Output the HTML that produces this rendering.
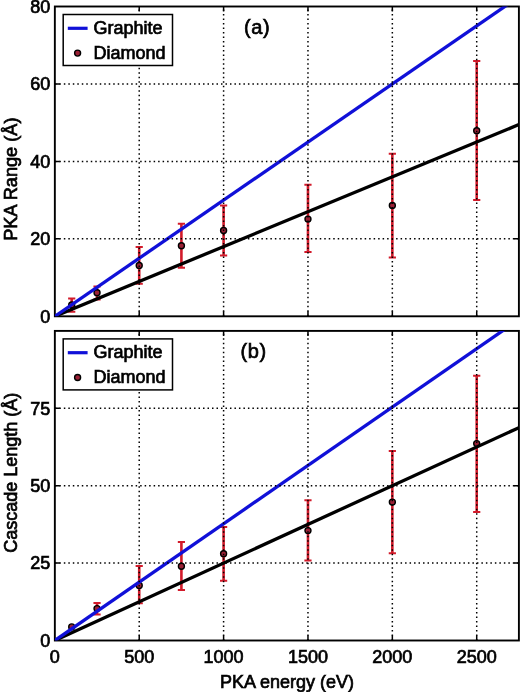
<!DOCTYPE html><html><head><meta charset="utf-8"><style>html,body{margin:0;padding:0;background:#fff;}svg{display:block;}text{font-family:"Liberation Sans", Arial, Helvetica, sans-serif;fill:#000;stroke:#000;stroke-width:0.7px;}</style></head><body>
<svg width="520" height="692" viewBox="0 0 520 692">
<rect width="520" height="692" fill="#fff"/>
<defs><clipPath id="c0"><rect x="54.85" y="6.5" width="464.05" height="309.8"/></clipPath></defs>
<rect x="54.85" y="6.5" width="464.05" height="309.8" fill="none" stroke="#000" stroke-width="1.9"/>
<g clip-path="url(#c0)">
<line x1="71.72" y1="298.49" x2="71.72" y2="311.77" stroke="#d21a2a" stroke-width="2.6"/>
<line x1="68.12" y1="298.49" x2="75.32" y2="298.49" stroke="#d21a2a" stroke-width="2"/>
<line x1="68.12" y1="311.77" x2="75.32" y2="311.77" stroke="#d21a2a" stroke-width="2"/>
<line x1="97.04" y1="286.48" x2="97.04" y2="299.42" stroke="#d21a2a" stroke-width="2.6"/>
<line x1="93.44" y1="286.48" x2="100.64" y2="286.48" stroke="#d21a2a" stroke-width="2"/>
<line x1="93.44" y1="299.42" x2="100.64" y2="299.42" stroke="#d21a2a" stroke-width="2"/>
<line x1="139.22" y1="246.98" x2="139.22" y2="283.77" stroke="#d21a2a" stroke-width="2.6"/>
<line x1="135.62" y1="246.98" x2="142.82" y2="246.98" stroke="#d21a2a" stroke-width="2"/>
<line x1="135.62" y1="283.77" x2="142.82" y2="283.77" stroke="#d21a2a" stroke-width="2"/>
<line x1="181.41" y1="223.75" x2="181.41" y2="267.7" stroke="#d21a2a" stroke-width="2.6"/>
<line x1="177.81" y1="223.75" x2="185.01" y2="223.75" stroke="#d21a2a" stroke-width="2"/>
<line x1="177.81" y1="267.7" x2="185.01" y2="267.7" stroke="#d21a2a" stroke-width="2"/>
<line x1="223.6" y1="205.55" x2="223.6" y2="255.5" stroke="#d21a2a" stroke-width="2.6"/>
<line x1="220" y1="205.55" x2="227.2" y2="205.55" stroke="#d21a2a" stroke-width="2"/>
<line x1="220" y1="255.5" x2="227.2" y2="255.5" stroke="#d21a2a" stroke-width="2"/>
<line x1="307.97" y1="184.83" x2="307.97" y2="252.02" stroke="#d21a2a" stroke-width="2.6"/>
<line x1="304.37" y1="184.83" x2="311.57" y2="184.83" stroke="#d21a2a" stroke-width="2"/>
<line x1="304.37" y1="252.02" x2="311.57" y2="252.02" stroke="#d21a2a" stroke-width="2"/>
<line x1="392.34" y1="153.66" x2="392.34" y2="257.44" stroke="#d21a2a" stroke-width="2.6"/>
<line x1="388.74" y1="153.66" x2="395.94" y2="153.66" stroke="#d21a2a" stroke-width="2"/>
<line x1="388.74" y1="257.44" x2="395.94" y2="257.44" stroke="#d21a2a" stroke-width="2"/>
<line x1="476.71" y1="61.1" x2="476.71" y2="200.12" stroke="#d21a2a" stroke-width="2.6"/>
<line x1="473.11" y1="61.1" x2="480.31" y2="61.1" stroke="#d21a2a" stroke-width="2"/>
<line x1="473.11" y1="200.12" x2="480.31" y2="200.12" stroke="#d21a2a" stroke-width="2"/>
<circle cx="71.72" cy="305.07" r="3" fill="#9a2035" stroke="#000" stroke-width="1.4"/>
<circle cx="97.04" cy="292.68" r="3" fill="#9a2035" stroke="#000" stroke-width="1.4"/>
<circle cx="139.22" cy="265.57" r="3" fill="#9a2035" stroke="#000" stroke-width="1.4"/>
<circle cx="181.41" cy="245.82" r="3" fill="#9a2035" stroke="#000" stroke-width="1.4"/>
<circle cx="223.6" cy="230.52" r="3" fill="#9a2035" stroke="#000" stroke-width="1.4"/>
<circle cx="307.97" cy="219.1" r="3" fill="#9a2035" stroke="#000" stroke-width="1.4"/>
<circle cx="392.34" cy="205.55" r="3" fill="#9a2035" stroke="#000" stroke-width="1.4"/>
<circle cx="476.71" cy="130.81" r="3" fill="#9a2035" stroke="#000" stroke-width="1.4"/>
<line x1="54.85" y1="316.3" x2="518.9" y2="124.61" stroke="#000" stroke-width="3.3"/>
<line x1="54.85" y1="316.3" x2="518.9" y2="-3.18" stroke="#1010d8" stroke-width="3.3"/>
<path d="M139.22 316.3V6.5M223.6 316.3V6.5M307.97 316.3V6.5M392.34 316.3V6.5M476.71 316.3V6.5M54.85 238.85H518.9M54.85 161.4H518.9M54.85 83.95H518.9" fill="none" stroke="#000" stroke-width="1.5" stroke-dasharray="1.5 2.99"/>
<path d="M139.22 316.3v-5M139.22 6.5v5M223.6 316.3v-5M223.6 6.5v5M307.97 316.3v-5M307.97 6.5v5M392.34 316.3v-5M392.34 6.5v5M476.71 316.3v-5M476.71 6.5v5M54.85 238.85h5M518.9 238.85h-5M54.85 161.4h5M518.9 161.4h-5M54.85 83.95h5M518.9 83.95h-5" fill="none" stroke="#000" stroke-width="1.5"/>
</g>
<text x="50.2" y="322.6" font-size="18" text-anchor="end">0</text>
<text x="50.2" y="245.15" font-size="18" text-anchor="end">20</text>
<text x="50.2" y="167.7" font-size="18" text-anchor="end">40</text>
<text x="50.2" y="90.25" font-size="18" text-anchor="end">60</text>
<text x="50.2" y="12.8" font-size="18" text-anchor="end">80</text>
<rect x="63.2" y="14.5" width="109.3" height="51" fill="#fff" stroke="#000" stroke-width="1.5"/>
<line x1="67.8" y1="28.3" x2="87.6" y2="28.3" stroke="#1010d8" stroke-width="3.2"/>
<circle cx="77.6" cy="53.1" r="3" fill="#9a2035" stroke="#000" stroke-width="1.4"/>
<text x="93.5" y="33.7" font-size="18">Graphite</text>
<text x="93.5" y="58.7" font-size="18">Diamond</text>
<text x="244" y="33.5" font-size="20" letter-spacing="0.6">(a)</text>
<defs><clipPath id="c1"><rect x="54.85" y="330.9" width="464.05" height="309.6"/></clipPath></defs>
<rect x="54.85" y="330.9" width="464.05" height="309.6" fill="none" stroke="#000" stroke-width="1.9"/>
<g clip-path="url(#c1)">
<line x1="97.04" y1="603.04" x2="97.04" y2="614.49" stroke="#d21a2a" stroke-width="2.6"/>
<line x1="93.44" y1="603.04" x2="100.64" y2="603.04" stroke="#d21a2a" stroke-width="2"/>
<line x1="93.44" y1="614.49" x2="100.64" y2="614.49" stroke="#d21a2a" stroke-width="2"/>
<line x1="139.22" y1="565.89" x2="139.22" y2="603.35" stroke="#d21a2a" stroke-width="2.6"/>
<line x1="135.62" y1="565.89" x2="142.82" y2="565.89" stroke="#d21a2a" stroke-width="2"/>
<line x1="135.62" y1="603.35" x2="142.82" y2="603.35" stroke="#d21a2a" stroke-width="2"/>
<line x1="181.41" y1="542.05" x2="181.41" y2="590.04" stroke="#d21a2a" stroke-width="2.6"/>
<line x1="177.81" y1="542.05" x2="185.01" y2="542.05" stroke="#d21a2a" stroke-width="2"/>
<line x1="177.81" y1="590.04" x2="185.01" y2="590.04" stroke="#d21a2a" stroke-width="2"/>
<line x1="223.6" y1="526.88" x2="223.6" y2="580.75" stroke="#d21a2a" stroke-width="2.6"/>
<line x1="220" y1="526.88" x2="227.2" y2="526.88" stroke="#d21a2a" stroke-width="2"/>
<line x1="220" y1="580.75" x2="227.2" y2="580.75" stroke="#d21a2a" stroke-width="2"/>
<line x1="307.97" y1="500.25" x2="307.97" y2="560.62" stroke="#d21a2a" stroke-width="2.6"/>
<line x1="304.37" y1="500.25" x2="311.57" y2="500.25" stroke="#d21a2a" stroke-width="2"/>
<line x1="304.37" y1="560.62" x2="311.57" y2="560.62" stroke="#d21a2a" stroke-width="2"/>
<line x1="392.34" y1="451.02" x2="392.34" y2="553.19" stroke="#d21a2a" stroke-width="2.6"/>
<line x1="388.74" y1="451.02" x2="395.94" y2="451.02" stroke="#d21a2a" stroke-width="2"/>
<line x1="388.74" y1="553.19" x2="395.94" y2="553.19" stroke="#d21a2a" stroke-width="2"/>
<line x1="476.71" y1="375.79" x2="476.71" y2="512.02" stroke="#d21a2a" stroke-width="2.6"/>
<line x1="473.11" y1="375.79" x2="480.31" y2="375.79" stroke="#d21a2a" stroke-width="2"/>
<line x1="473.11" y1="512.02" x2="480.31" y2="512.02" stroke="#d21a2a" stroke-width="2"/>
<circle cx="71.72" cy="626.88" r="3" fill="#9a2035" stroke="#000" stroke-width="1.4"/>
<circle cx="97.04" cy="608.61" r="3" fill="#9a2035" stroke="#000" stroke-width="1.4"/>
<circle cx="139.22" cy="585.39" r="3" fill="#9a2035" stroke="#000" stroke-width="1.4"/>
<circle cx="181.41" cy="566.2" r="3" fill="#9a2035" stroke="#000" stroke-width="1.4"/>
<circle cx="223.6" cy="553.81" r="3" fill="#9a2035" stroke="#000" stroke-width="1.4"/>
<circle cx="307.97" cy="530.59" r="3" fill="#9a2035" stroke="#000" stroke-width="1.4"/>
<circle cx="392.34" cy="502.11" r="3" fill="#9a2035" stroke="#000" stroke-width="1.4"/>
<circle cx="476.71" cy="443.59" r="3" fill="#9a2035" stroke="#000" stroke-width="1.4"/>
<line x1="54.85" y1="640.5" x2="518.9" y2="427.65" stroke="#000" stroke-width="3.3"/>
<line x1="54.85" y1="640.5" x2="518.9" y2="319.52" stroke="#1010d8" stroke-width="3.3"/>
<path d="M139.22 640.5V330.9M223.6 640.5V330.9M307.97 640.5V330.9M392.34 640.5V330.9M476.71 640.5V330.9M54.85 563.1H518.9M54.85 485.7H518.9M54.85 408.3H518.9" fill="none" stroke="#000" stroke-width="1.5" stroke-dasharray="1.5 2.99"/>
<path d="M139.22 640.5v-5M139.22 330.9v5M223.6 640.5v-5M223.6 330.9v5M307.97 640.5v-5M307.97 330.9v5M392.34 640.5v-5M392.34 330.9v5M476.71 640.5v-5M476.71 330.9v5M54.85 563.1h5M518.9 563.1h-5M54.85 485.7h5M518.9 485.7h-5M54.85 408.3h5M518.9 408.3h-5" fill="none" stroke="#000" stroke-width="1.5"/>
</g>
<text x="50.2" y="646.8" font-size="18" text-anchor="end">0</text>
<text x="50.2" y="569.4" font-size="18" text-anchor="end">25</text>
<text x="50.2" y="492" font-size="18" text-anchor="end">50</text>
<text x="50.2" y="414.6" font-size="18" text-anchor="end">75</text>
<rect x="63.2" y="338.9" width="109.3" height="51" fill="#fff" stroke="#000" stroke-width="1.5"/>
<line x1="67.8" y1="352.7" x2="87.6" y2="352.7" stroke="#1010d8" stroke-width="3.2"/>
<circle cx="77.6" cy="377.5" r="3" fill="#9a2035" stroke="#000" stroke-width="1.4"/>
<text x="93.5" y="358.1" font-size="18">Graphite</text>
<text x="93.5" y="383.1" font-size="18">Diamond</text>
<text x="240.5" y="357.9" font-size="20" letter-spacing="0.6">(b)</text>
<text transform="translate(17,240.8) rotate(-90)" font-size="18.2">PKA Range (Å)</text>
<text transform="translate(17,552.8) rotate(-90)" font-size="18">Cascade Length (Å)</text>
<text x="54.85" y="662.5" font-size="18" text-anchor="middle">0</text>
<text x="139.22" y="662.5" font-size="18" text-anchor="middle">500</text>
<text x="223.6" y="662.5" font-size="18" text-anchor="middle">1000</text>
<text x="307.97" y="662.5" font-size="18" text-anchor="middle">1500</text>
<text x="392.34" y="662.5" font-size="18" text-anchor="middle">2000</text>
<text x="476.71" y="662.5" font-size="18" text-anchor="middle">2500</text>
<text x="287" y="688" font-size="18" text-anchor="middle">PKA energy (eV)</text>
</svg></body></html>
